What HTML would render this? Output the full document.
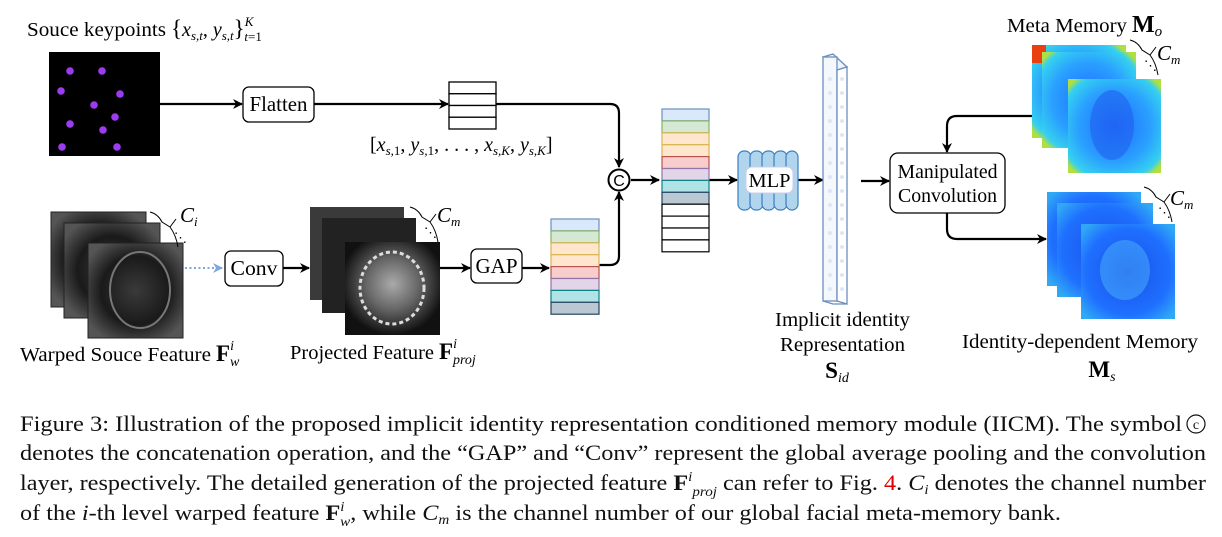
<!DOCTYPE html>
<html><head><meta charset="utf-8"><style>
html,body{margin:0;padding:0;background:#fff;}
body{width:1222px;height:537px;overflow:hidden;position:relative;font-family:"Liberation Serif",serif;}
</style></head><body>
<svg width="1222" height="537" style="position:absolute;left:0;top:0" font-family="Liberation Serif, serif">
<defs>
<marker id="ah" markerWidth="10" markerHeight="10" refX="9" refY="5" orient="auto" markerUnits="userSpaceOnUse"><path d="M0,0 L10,5 L0,10 L3,5z" fill="#000"/></marker>
<marker id="ahb" markerWidth="10" markerHeight="10" refX="9" refY="5" orient="auto" markerUnits="userSpaceOnUse"><path d="M0,0 L10,5 L0,10 L3,5z" fill="#7ea6e0"/></marker>
<radialGradient id="face" cx="50%" cy="50%" r="60%"><stop offset="0" stop-color="#3a3a3a"/><stop offset="0.6" stop-color="#1a1a1a"/><stop offset="1" stop-color="#555"/></radialGradient>
<radialGradient id="face2" cx="50%" cy="45%" r="55%"><stop offset="0" stop-color="#aaa"/><stop offset="0.5" stop-color="#666"/><stop offset="1" stop-color="#111"/></radialGradient>
<radialGradient id="heat" cx="50%" cy="50%" r="65%"><stop offset="0" stop-color="#1f6bff"/><stop offset="0.6" stop-color="#2aa0ff"/><stop offset="0.9" stop-color="#35d0f0"/><stop offset="1" stop-color="#b0e040"/></radialGradient>
<radialGradient id="heat2" cx="50%" cy="50%" r="65%"><stop offset="0" stop-color="#1850e8"/><stop offset="0.7" stop-color="#1f70ff"/><stop offset="1" stop-color="#30a8f5"/></radialGradient>
</defs>
<text x="27" y="36" font-size="20"><tspan textLength="139" lengthAdjust="spacingAndGlyphs">Souce keypoints</tspan> <tspan font-size="23">{</tspan><tspan font-style="italic">x</tspan><tspan font-size="13" dy="4" font-style="italic">s,t</tspan><tspan dy="-4">, </tspan><tspan font-style="italic">y</tspan><tspan font-size="13" dy="4" font-style="italic">s,t</tspan><tspan dy="-4" font-size="23">}</tspan><tspan font-size="13" dy="-10" font-style="italic">K</tspan><tspan font-size="13" dx="-9" dy="15" font-style="italic">t</tspan><tspan font-size="13">=1</tspan></text>
<rect x="49" y="52" width="111" height="104" fill="#000"/>
<g fill="#9b3cf0"><circle cx="70" cy="71" r="3.8"/><circle cx="102" cy="71" r="3.8"/><circle cx="61" cy="91" r="3.8"/><circle cx="120" cy="94" r="3.8"/><circle cx="94" cy="105" r="3.8"/><circle cx="115" cy="117" r="3.8"/><circle cx="70" cy="124" r="3.8"/><circle cx="103" cy="130" r="3.8"/><circle cx="62" cy="147" r="3.8"/><circle cx="117" cy="147" r="3.8"/></g>
<g stroke="#000" stroke-width="2.2" fill="none">
<line x1="160" y1="104" x2="242" y2="104" marker-end="url(#ah)"/>
<line x1="314" y1="104" x2="448" y2="104" marker-end="url(#ah)"/>
<path d="M496,104 H610 Q619,104 619,113 V167" marker-end="url(#ah)"/>
<path d="M599,265 H610 Q619,265 619,256 V192" marker-end="url(#ah)"/>
<line x1="631" y1="180" x2="659" y2="180" marker-end="url(#ah)"/>
<line x1="709" y1="180" x2="737" y2="180" marker-end="url(#ah)"/>
<line x1="798" y1="180" x2="823" y2="180" marker-end="url(#ah)"/>
<line x1="861" y1="181" x2="889" y2="181" marker-end="url(#ah)"/>
<path d="M1032,116 H957 Q947,116 947,126 V152" marker-end="url(#ah)"/>
<path d="M947,213 V229 Q947,239 957,239 H1046" marker-end="url(#ah)"/>
<line x1="283" y1="268" x2="309" y2="268" marker-end="url(#ah)"/>
<line x1="440" y1="268" x2="470" y2="268" marker-end="url(#ah)"/>
<line x1="522" y1="268" x2="549" y2="268" marker-end="url(#ah)"/>
</g>
<line x1="185" y1="268" x2="222" y2="268" stroke="#7ea6e0" stroke-width="2" stroke-dasharray="2,2.5" marker-end="url(#ahb)"/>
<rect x="243" y="87" width="71" height="35" rx="6" fill="#fff" stroke="#000" stroke-width="1.3"/>
<text x="278.5" y="111" font-size="21" text-anchor="middle" textLength="58" lengthAdjust="spacingAndGlyphs">Flatten</text>
<g fill="#fff" stroke="#000" stroke-width="1.3"><rect x="449" y="82" width="47" height="11.75"/><rect x="449" y="93.75" width="47" height="11.75"/><rect x="449" y="105.5" width="47" height="11.75"/><rect x="449" y="117.25" width="47" height="11.75"/></g>
<text x="370" y="151" font-size="20">[<tspan font-style="italic">x</tspan><tspan font-size="13" dy="4" font-style="italic">s,</tspan><tspan font-size="13">1</tspan><tspan dy="-4">, </tspan><tspan font-style="italic">y</tspan><tspan font-size="13" dy="4" font-style="italic">s,</tspan><tspan font-size="13">1</tspan><tspan dy="-4">, . . . , </tspan><tspan font-style="italic">x</tspan><tspan font-size="13" dy="4" font-style="italic">s,K</tspan><tspan dy="-4">, </tspan><tspan font-style="italic">y</tspan><tspan font-size="13" dy="4" font-style="italic">s,K</tspan><tspan dy="-4">]</tspan></text>
<circle cx="619" cy="180" r="10.5" fill="#fff" stroke="#000" stroke-width="2"/>
<text x="619" y="186" font-size="16" text-anchor="middle" font-family="Liberation Sans, sans-serif">C</text>
<rect x="51" y="212" width="95" height="95" fill="url(#face)" stroke="#222"/>
<rect x="64" y="223" width="96" height="95" fill="url(#face)" stroke="#222"/>
<rect x="88" y="243" width="95" height="95" fill="url(#face)" stroke="#222"/>
<ellipse cx="140" cy="290" rx="30" ry="38" fill="none" stroke="#777" stroke-width="2"/>
<path d="M150,212 q8,2 12,10 l8,5 l6,-8 m-6,8 q6,8 8,20" fill="none" stroke="#000" stroke-width="1"/>
<text x="174" y="242" font-size="13">⋱</text>
<text x="180" y="222" font-size="21" font-style="italic">C<tspan font-size="13" dy="4">i</tspan></text>
<rect x="225" y="251" width="58" height="35" rx="6" fill="#fff" stroke="#000" stroke-width="1.3"/>
<text x="254" y="275" font-size="21" text-anchor="middle" textLength="47" lengthAdjust="spacingAndGlyphs">Conv</text>
<rect x="310" y="207" width="94" height="93" fill="#3a3a3a"/>
<rect x="322" y="218" width="94" height="95" fill="#222"/>
<rect x="345" y="242" width="95" height="93" fill="url(#face2)"/>
<ellipse cx="392" cy="288" rx="32" ry="36" fill="none" stroke="#ddd" stroke-width="3" stroke-dasharray="4,3"/>
<path d="M410,207 q8,2 12,10 l8,5 l6,-8 m-6,8 q6,8 8,20" fill="none" stroke="#000" stroke-width="1"/>
<text x="424" y="237" font-size="13">⋱</text>
<text x="437" y="222" font-size="21" font-style="italic">C<tspan font-size="13" dy="4">m</tspan></text>
<rect x="471" y="249" width="51" height="34" rx="6" fill="#fff" stroke="#000" stroke-width="1.3"/>
<text x="496.5" y="273" font-size="21" text-anchor="middle" textLength="42" lengthAdjust="spacingAndGlyphs">GAP</text>
<g stroke-width="1.2">
<rect x="551" y="219" width="48" height="11.9" fill="#dae8fc" stroke="#6c8ebf"/>
<rect x="551" y="230.9" width="48" height="11.9" fill="#d5e8d4" stroke="#82b366"/>
<rect x="551" y="242.8" width="48" height="11.9" fill="#ffe6cc" stroke="#d6b656"/>
<rect x="551" y="254.7" width="48" height="11.9" fill="#ffe6cc" stroke="#d6b656"/>
<rect x="551" y="266.6" width="48" height="11.9" fill="#f8cecc" stroke="#b85450"/>
<rect x="551" y="278.5" width="48" height="11.9" fill="#e1d5e7" stroke="#9673a6"/>
<rect x="551" y="290.4" width="48" height="11.9" fill="#b0e3e6" stroke="#0e8088"/>
<rect x="551" y="302.3" width="48" height="11.9" fill="#bac8d3" stroke="#23445d"/>
</g>
<g stroke-width="1.2">
<rect x="662" y="109" width="47" height="11.9" fill="#dae8fc" stroke="#6c8ebf"/>
<rect x="662" y="120.9" width="47" height="11.9" fill="#d5e8d4" stroke="#82b366"/>
<rect x="662" y="132.8" width="47" height="11.9" fill="#ffe6cc" stroke="#d6b656"/>
<rect x="662" y="144.7" width="47" height="11.9" fill="#ffe6cc" stroke="#d6b656"/>
<rect x="662" y="156.6" width="47" height="11.9" fill="#f8cecc" stroke="#b85450"/>
<rect x="662" y="168.5" width="47" height="11.9" fill="#e1d5e7" stroke="#9673a6"/>
<rect x="662" y="180.4" width="47" height="11.9" fill="#b0e3e6" stroke="#0e8088"/>
<rect x="662" y="192.3" width="47" height="11.9" fill="#bac8d3" stroke="#23445d"/>
<rect x="662" y="204.2" width="47" height="11.9" fill="#fff" stroke="#000"/>
<rect x="662" y="216.1" width="47" height="11.9" fill="#fff" stroke="#000"/>
<rect x="662" y="228" width="47" height="11.9" fill="#fff" stroke="#000"/>
<rect x="662" y="239.9" width="47" height="11.9" fill="#fff" stroke="#000"/>
</g>
<g fill="#b1d5ed" stroke="#3a7fc0" stroke-width="1.2">
<rect x="738" y="151" width="13" height="59" rx="6"/><rect x="750" y="151" width="13" height="59" rx="6"/><rect x="762" y="151" width="13" height="59" rx="6"/><rect x="774" y="151" width="13" height="59" rx="6"/><rect x="786" y="151" width="12" height="59" rx="6"/>
</g>
<rect x="746" y="167" width="47" height="26" rx="6" fill="#fff" stroke="#cce"/>
<text x="769.5" y="187" font-size="20" text-anchor="middle" textLength="42" lengthAdjust="spacingAndGlyphs">MLP</text>
<path d="M823,57 L833,54 L847,67 L837,70 z" fill="#eef4fc" stroke="#6c8ebf" stroke-width="1.3"/>
<rect x="823" y="57" width="14" height="244" fill="#f4f8fd" stroke="#6c8ebf" stroke-width="1.3"/>
<path d="M837,70 L847,67 L847,304 L837,301 z" fill="#fff" stroke="#6c8ebf" stroke-width="1.3"/>
<path d="M823,301 L833,304 L847,304" fill="none" stroke="#6c8ebf" stroke-width="1.3"/>
<g fill="#dbe6f5">
<circle cx="830" cy="79" r="2"/><circle cx="830" cy="93" r="2"/><circle cx="830" cy="107" r="2"/><circle cx="830" cy="121" r="2"/><circle cx="830" cy="135" r="2"/><circle cx="830" cy="149" r="2"/><circle cx="830" cy="163" r="2"/><circle cx="830" cy="177" r="2"/><circle cx="830" cy="191" r="2"/><circle cx="830" cy="205" r="2"/><circle cx="830" cy="219" r="2"/><circle cx="830" cy="233" r="2"/><circle cx="830" cy="247" r="2"/><circle cx="830" cy="261" r="2"/><circle cx="830" cy="275" r="2"/><circle cx="830" cy="289" r="2"/>
<circle cx="842" cy="79" r="2"/><circle cx="842" cy="93" r="2"/><circle cx="842" cy="107" r="2"/><circle cx="842" cy="121" r="2"/><circle cx="842" cy="135" r="2"/><circle cx="842" cy="149" r="2"/><circle cx="842" cy="163" r="2"/><circle cx="842" cy="177" r="2"/><circle cx="842" cy="191" r="2"/><circle cx="842" cy="205" r="2"/><circle cx="842" cy="219" r="2"/><circle cx="842" cy="233" r="2"/><circle cx="842" cy="247" r="2"/><circle cx="842" cy="261" r="2"/><circle cx="842" cy="275" r="2"/><circle cx="842" cy="289" r="2"/>
</g>
<rect x="890" y="153" width="115" height="60" rx="8" fill="#fff" stroke="#000" stroke-width="1.3"/>
<text x="947.5" y="178" font-size="20" text-anchor="middle" textLength="100" lengthAdjust="spacingAndGlyphs">Manipulated</text>
<text x="947.5" y="202" font-size="20" text-anchor="middle" textLength="99" lengthAdjust="spacingAndGlyphs">Convolution</text>
<text x="1007" y="32" font-size="20"><tspan textLength="120" lengthAdjust="spacingAndGlyphs">Meta Memory</tspan> <tspan font-weight="bold" font-size="24">M</tspan><tspan font-style="italic" font-size="15" dy="4">o</tspan></text>
<rect x="1032" y="45" width="94" height="93" fill="url(#heat)"/>
<rect x="1032" y="45" width="14" height="18" fill="#e84010"/>
<rect x="1042" y="52" width="94" height="96" fill="url(#heat)"/>
<rect x="1068" y="79" width="93" height="94" fill="url(#heat)"/>
<ellipse cx="1112" cy="125" rx="22" ry="35" fill="#2060ee" opacity="0.6"/>
<path d="M1130,40 q8,2 12,10 l8,5 l6,-8 m-6,8 q6,8 8,20" fill="none" stroke="#000" stroke-width="1"/>
<text x="1144" y="70" font-size="13">⋱</text>
<text x="1157" y="60" font-size="21" font-style="italic">C<tspan font-size="13" dy="4">m</tspan></text>
<rect x="1047" y="192" width="94" height="94" fill="url(#heat2)"/>
<rect x="1057" y="203" width="96" height="94" fill="url(#heat2)"/>
<rect x="1081" y="224" width="94" height="95" fill="url(#heat2)"/>
<ellipse cx="1125" cy="270" rx="25" ry="30" fill="#58c8ff" opacity="0.4"/>
<path d="M1144,187 q8,2 12,10 l8,5 l6,-8 m-6,8 q6,8 8,20" fill="none" stroke="#000" stroke-width="1"/>
<text x="1158" y="217" font-size="13">⋱</text>
<text x="1170" y="205" font-size="21" font-style="italic">C<tspan font-size="13" dy="4">m</tspan></text>
<text x="775" y="326" font-size="20" textLength="135" lengthAdjust="spacingAndGlyphs">Implicit identity</text>
<text x="780" y="351" font-size="20" textLength="125" lengthAdjust="spacingAndGlyphs">Representation</text>
<text x="837" y="378" font-size="23" font-weight="bold" text-anchor="middle">S<tspan font-size="14" font-weight="normal" font-style="italic" dy="4">id</tspan></text>
<text x="962" y="348" font-size="20" textLength="236" lengthAdjust="spacingAndGlyphs">Identity-dependent Memory</text>
<text x="1102" y="377" font-size="23" font-weight="bold" text-anchor="middle">M<tspan font-size="14" font-weight="normal" font-style="italic" dy="4">s</tspan></text>
<text x="20" y="361" font-size="20"><tspan textLength="191" lengthAdjust="spacingAndGlyphs">Warped Souce Feature</tspan> <tspan font-weight="bold" font-size="23">F</tspan><tspan font-style="italic" font-size="14" dy="-11">i</tspan><tspan font-style="italic" font-size="14" dx="-4" dy="16">w</tspan></text>
<text x="290" y="359" font-size="20"><tspan textLength="144" lengthAdjust="spacingAndGlyphs">Projected Feature</tspan> <tspan font-weight="bold" font-size="23">F</tspan><tspan font-style="italic" font-size="14" dy="-11">i</tspan><tspan font-style="italic" font-size="14" dx="-4" dy="16">proj</tspan></text>
<g font-size="22.5" fill="#111">
<text x="20" y="431" textLength="1162" lengthAdjust="spacingAndGlyphs">Figure 3: Illustration of the proposed implicit identity representation conditioned memory module (IICM). The symbol</text>
<circle cx="1196" cy="424" r="9" fill="none" stroke="#111" stroke-width="1.2"/>
<text x="1196" y="429" font-size="14" text-anchor="middle">c</text>
<text x="20" y="460" textLength="1186" lengthAdjust="spacingAndGlyphs">denotes the concatenation operation, and the “GAP” and “Conv” represent the global average pooling and the convolution</text>
<text x="20" y="490" textLength="1186" lengthAdjust="spacingAndGlyphs">layer, respectively. The detailed generation of the projected feature <tspan font-weight="bold">F</tspan><tspan font-style="italic" font-size="14" dy="-9">i</tspan><tspan font-style="italic" font-size="14" dy="15">proj</tspan><tspan dy="-6"> can refer to Fig. </tspan><tspan fill="#d00">4</tspan>. <tspan font-style="italic">C</tspan><tspan font-style="italic" font-size="14" dy="4">i</tspan><tspan dy="-4"> denotes the channel number</tspan></text>
<text x="20" y="520" textLength="1041" lengthAdjust="spacingAndGlyphs">of the <tspan font-style="italic">i</tspan>-th level warped feature <tspan font-weight="bold">F</tspan><tspan font-style="italic" font-size="14" dy="-9">i</tspan><tspan font-style="italic" font-size="14" dx="-4" dy="15">w</tspan><tspan dy="-6">, while </tspan><tspan font-style="italic">C</tspan><tspan font-style="italic" font-size="14" dy="4">m</tspan><tspan dy="-4"> is the channel number of our global facial meta-memory bank.</tspan></text>
</g>
</svg>
</body></html>
